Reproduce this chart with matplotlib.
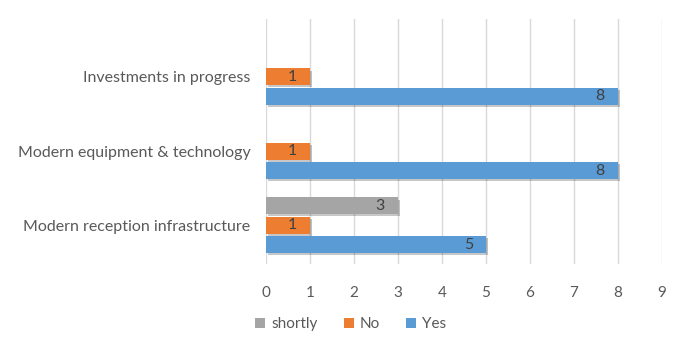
import matplotlib
matplotlib.use("Agg")
import matplotlib.pyplot as plt
import matplotlib.patheffects as pe
from matplotlib.patches import Patch
import numpy as np

categories = ["Modern reception infrastructure", "Modern equipment & technology", "Investments in progress"]
series_names = ["shortly", "No", "Yes"]
shortly = [3, None, None]
no = [1, 1, 1]
yes = [5, 8, 8]
colors = {"shortly": "#A5A5A5", "No": "#ED7D31", "Yes": "#5B9BD5"}
xticks = list(range(0, 10))

plt.rcParams['font.family'] = ['Lato', 'DejaVu Sans']

fig = plt.figure(figsize=(6.85, 3.44), dpi=100)
ax = fig.add_axes([0.388, 0.2326, 0.5784, 0.7122])

y = np.arange(len(categories))
offset = 0.262
h = 0.228
data = {"shortly": shortly, "No": no, "Yes": yes}
offs = {"shortly": offset, "No": 0.0, "Yes": -offset}
shadow = [pe.SimplePatchShadow(offset=(1.5, -1.5), shadow_rgbFace='#000000', alpha=0.22), pe.Normal()]
for name in series_names:
    vals = data[name]
    ys, vs = [], []
    for i, v in enumerate(vals):
        if v is not None:
            ys.append(y[i] + offs[name])
            vs.append(v)
    bars = ax.barh(ys, vs, height=h, color=colors[name], zorder=3)
    for b in bars:
        b.set_path_effects(shadow)
    ax.bar_label(bars, labels=[str(v) for v in vs], label_type='edge', padding=-16,
                 color='#404040', fontsize=11.5, zorder=4)

ax.set_xlim(0, 9)
ax.set_ylim(-0.52, 2.78)
ax.set_xticks(xticks)
ax.set_yticks(y)
ax.set_yticklabels(categories, fontsize=11.5)
ax.tick_params(axis='both', length=0, colors='#595959')
ax.tick_params(axis='x', labelsize=11, pad=16)
ax.tick_params(axis='y', pad=11)
for s in ax.spines.values():
    s.set_visible(False)
ax.grid(axis='x', color='#D9D9D9', linewidth=1.0, zorder=0)
ax.set_axisbelow(True)

handles = [Patch(facecolor=colors[n], label=n) for n in series_names]
leg = fig.legend(handles=handles, loc='center', bbox_to_anchor=(0.512, 0.058),
                 ncol=3, frameon=False, fontsize=11, handlelength=0.65, handleheight=0.65,
                 handletextpad=0.4, columnspacing=1.7)
for t in leg.get_texts():
    t.set_color('#595959')

fig.savefig("out.png", dpi=100)
